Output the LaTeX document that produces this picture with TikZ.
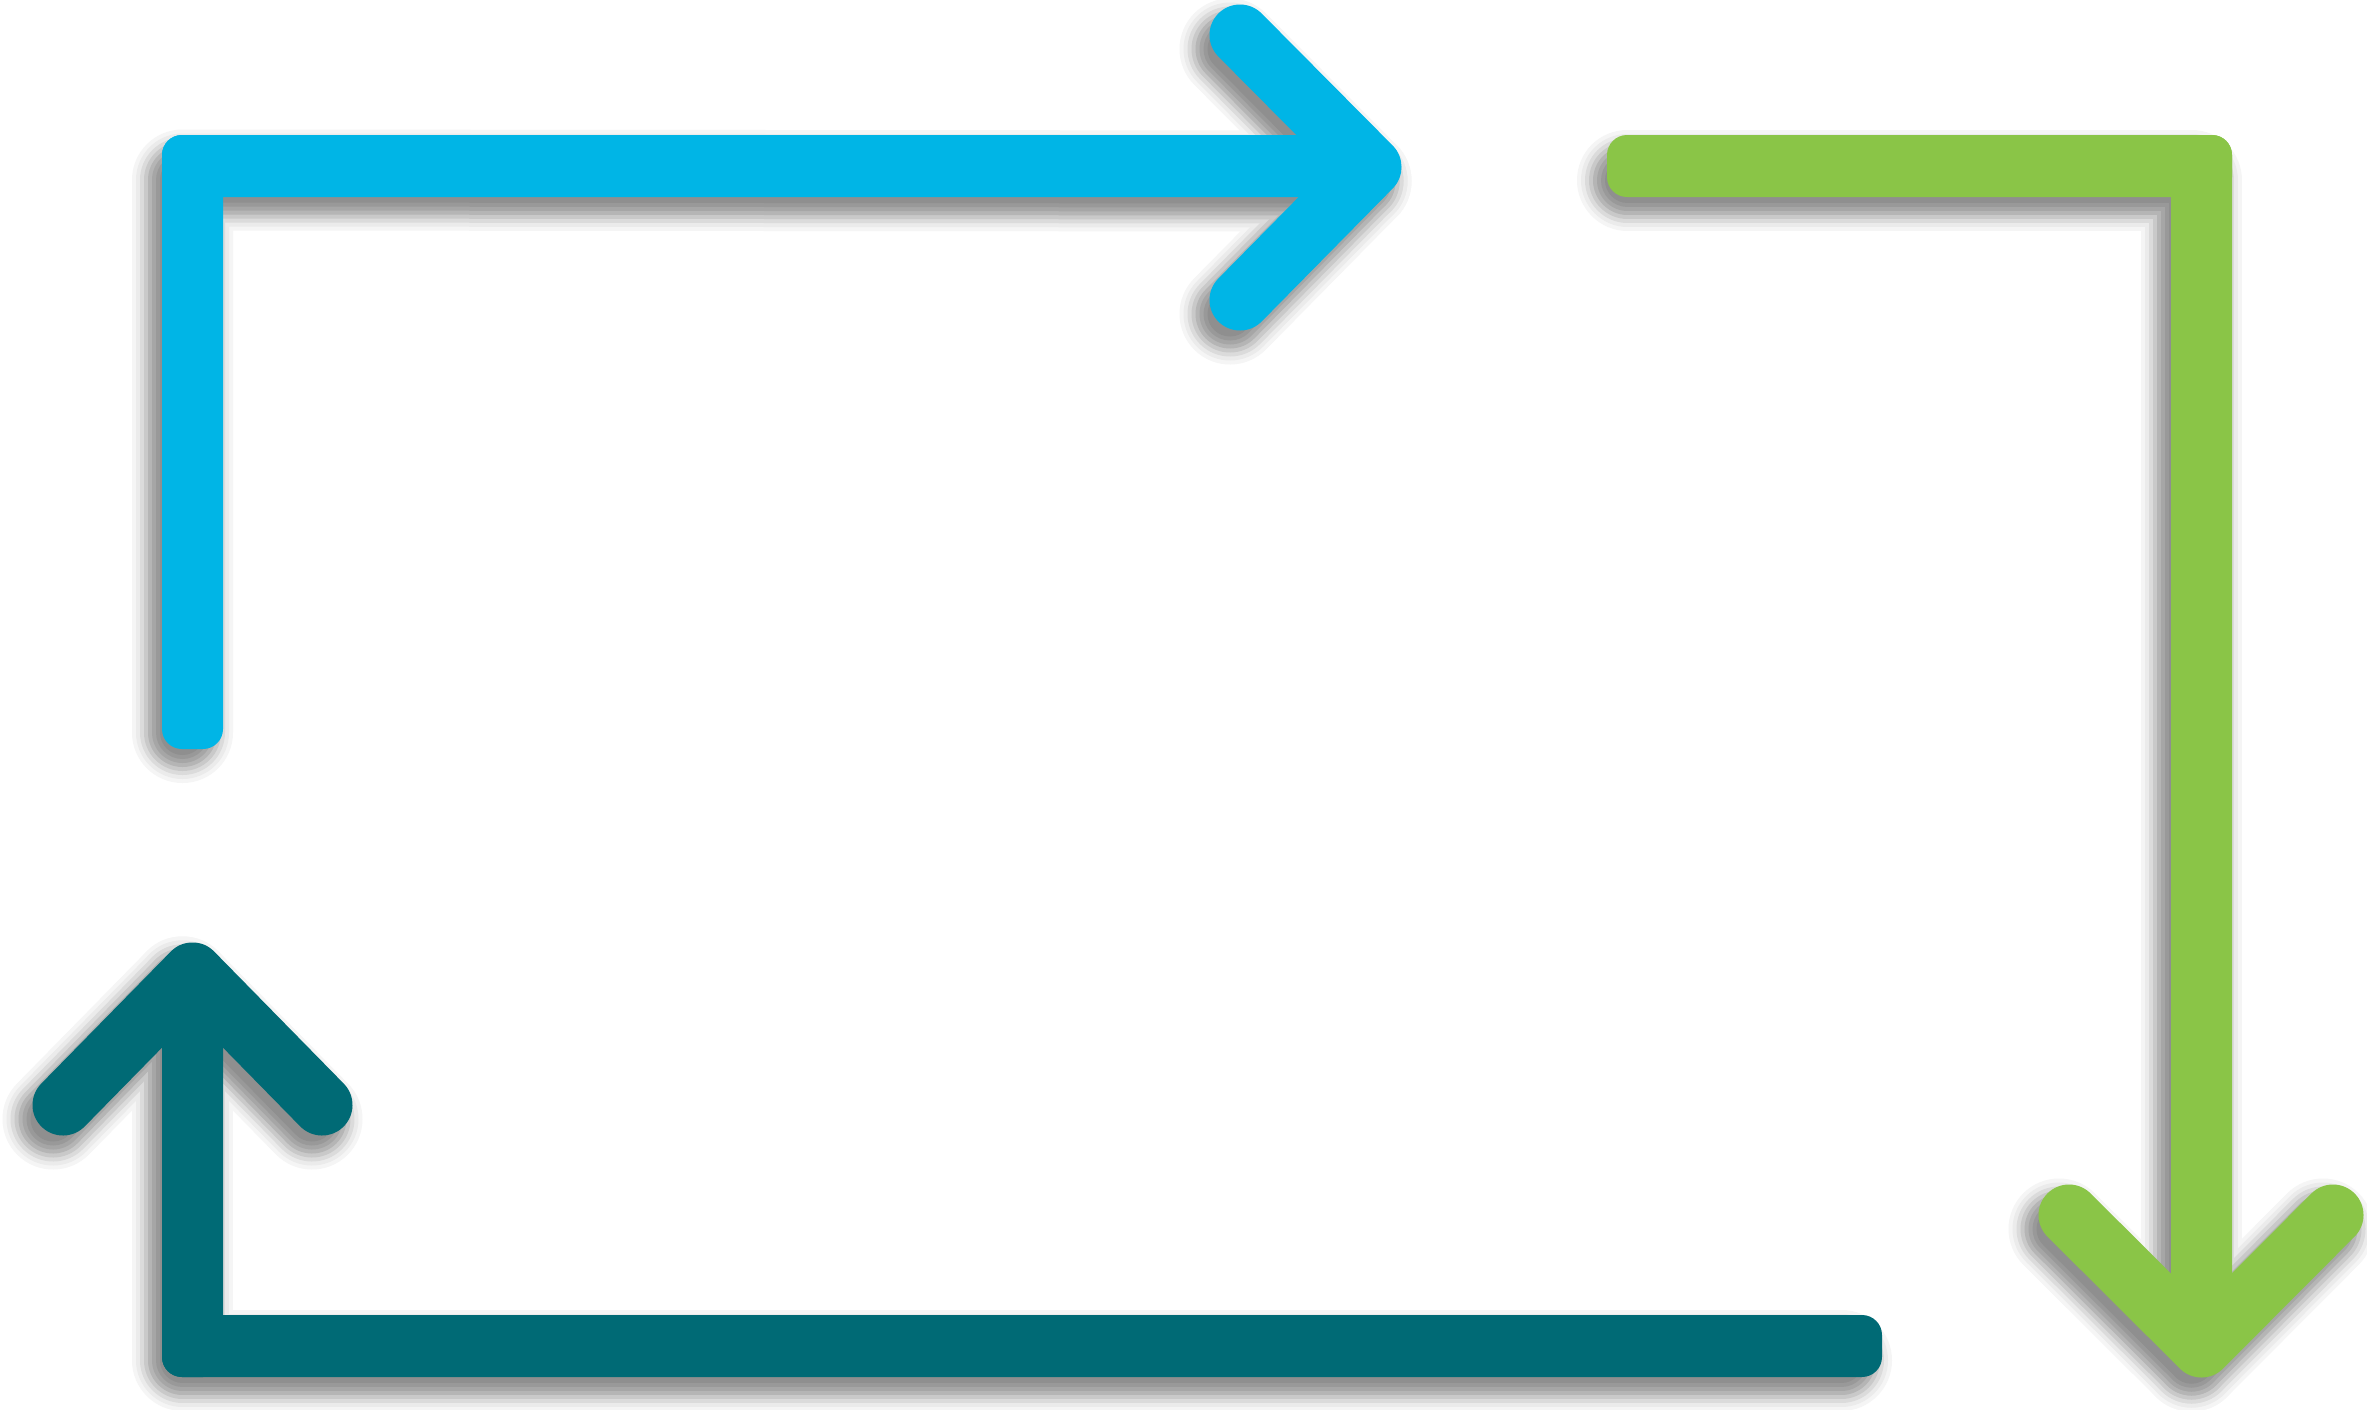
\documentclass[tikz,border=0pt]{standalone}
\definecolor{cyanA}{RGB}{0,181,230}
\definecolor{greenA}{RGB}{138,197,71}
\definecolor{tealA}{RGB}{0,106,117}
\tikzset{
  sh/.style={xshift=-5pt,yshift=-7pt},
  chev/.style={line width=30.5pt,line cap=round,line join=round},
  bar/.style={rounded corners=10pt}
}
\begin{document}
\begin{tikzpicture}[x=0.5pt,y=-0.5pt]
\useasboundingbox (0,0) rectangle (2367,1409);
\fill[white] (0,0) rectangle (2367,1409);
% blue arrow
\coordinate (b0) at (192.5,718.5);
\coordinate (b1) at (192.5,166);
\coordinate (b2) at (1371,167);
\coordinate (bt) at (1240,35);
\coordinate (bb) at (1240,300);
% green arrow
\coordinate (g0) at (1637.5,166);
\coordinate (g1) at (2201.5,166);
\coordinate (g2) at (2201.5,1347);
\coordinate (gl) at (2069,1215);
\coordinate (gr) at (2333,1215);
% teal arrow
\coordinate (t0) at (1851.5,1346);
\coordinate (t1) at (192.5,1346);
\coordinate (t2) at (192.5,973);
\coordinate (tl) at (63,1105);
\coordinate (tr) at (322,1105);
% soft shadows
\foreach \e/\c in {20/4,16/8,12/14,8/21,4/29,0/35,-4/40,-8/44}{
  \pgfmathsetmacro\lw{(61+2*\e)*0.5}
  \begin{scope}[draw=black!\c,line width=\lw pt,line cap=round,line join=round]
    \draw ([sh]b0) -- ([sh]b1) -- ([sh]b2);
    \draw ([sh]bt) -- ([sh]b2) -- ([sh]bb);
    \draw ([sh]g0) -- ([sh]g1) -- ([sh]g2);
    \draw ([sh]gl) -- ([sh]g2) -- ([sh]gr);
    \draw ([sh]t0) -- ([sh]t1) -- ([sh]t2);
    \draw ([sh]tl) -- ([sh]t2) -- ([sh]tr);
  \end{scope}
}
% blue
\fill[cyanA,bar] (162,135) rectangle (223,749);
\fill[cyanA,bar] (162,135) rectangle (1371,197);
\draw[cyanA,chev] (bt) -- (b2) -- (bb);
% green
\fill[greenA,bar] (1607,135) rectangle (2232,197);
\fill[greenA,bar] (2171,135) rectangle (2232,1347);
\draw[greenA,chev] (gl) -- (g2) -- (gr);
% teal
\fill[tealA,bar] (162,1315) rectangle (1882,1377);
\fill[tealA,bar] (162,973) rectangle (223,1377);
\draw[tealA,chev] (tl) -- (t2) -- (tr);
\end{tikzpicture}
\end{document}
